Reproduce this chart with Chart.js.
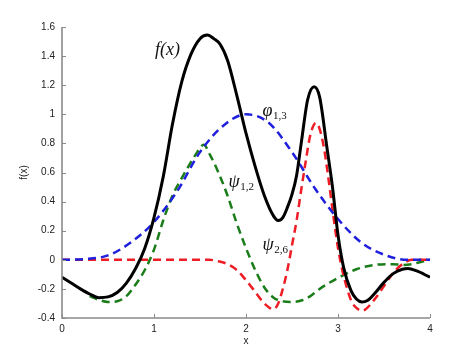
<!DOCTYPE html>
<html>
<head>
<meta charset="utf-8">
<script src="https://cdn.jsdelivr.net/npm/chart.js@4/dist/chart.umd.min.js"></script>
<style>
html,body{margin:0;padding:0;background:#fff;}
#wrap{width:474px;height:356px;position:relative;}
</style>
</head>
<body>
<div id="wrap"><canvas id="c" width="474" height="356"></canvas></div>
<script>
// ---- data ----
const fX = [0,0.1,0.2,0.3,0.4,0.5,0.6,0.7,0.8,0.9,1.0,1.1,1.2,1.3,1.4,1.5,1.58,1.65,1.72,1.8,1.9,2.0,2.1,2.2,2.3,2.35,2.4,2.45,2.5,2.55,2.6,2.67,2.74,2.8,2.88,2.94,3.0,3.06,3.14,3.2,3.26,3.32,3.4,3.5,3.6,3.7,3.76,3.85,4.0];
const fY = [-0.12,-0.16,-0.2,-0.235,-0.26,-0.255,-0.225,-0.16,-0.06,0.08,0.29,0.57,0.93,1.22,1.41,1.52,1.545,1.52,1.48,1.37,1.13,0.87,0.64,0.44,0.3,0.27,0.29,0.36,0.45,0.58,0.8,1.1,1.19,1.12,0.77,0.5,0.17,-0.05,-0.21,-0.27,-0.29,-0.28,-0.23,-0.155,-0.095,-0.065,-0.06,-0.075,-0.12];

const phiX = [0,0.25,0.5,0.75,1.0,1.25,1.5,1.75,2.0,2.25,2.5,2.75,3.0,3.25,3.5,3.75,4.0];
const phiY = [0,0.005,0.03,0.12,0.26,0.47,0.74,0.92,1.0,0.94,0.74,0.49,0.28,0.12,0.035,0.0,0];

const psi12X = [0.3,0.4,0.5,0.6,0.7,0.8,0.9,1.0,1.1,1.2,1.3,1.4,1.45,1.54,1.61,1.7,1.8,1.9,2.0,2.1,2.2,2.3,2.4,2.5,2.6,2.7,2.8,2.9,3.0,3.2,3.4,3.6,3.7,3.8,3.9,4.0];
const psi12Y = [-0.25,-0.275,-0.29,-0.285,-0.25,-0.17,-0.07,0.07,0.27,0.44,0.56,0.67,0.72,0.79,0.72,0.6,0.44,0.25,0.08,-0.07,-0.19,-0.26,-0.285,-0.29,-0.28,-0.25,-0.2,-0.16,-0.125,-0.065,-0.035,-0.03,-0.035,-0.03,-0.015,0];

const psi26X = [0,1.6,1.7,1.8,1.9,2.0,2.1,2.2,2.3,2.35,2.4,2.45,2.5,2.55,2.6,2.65,2.7,2.76,2.8,2.85,2.9,2.95,3.0,3.05,3.1,3.15,3.2,3.26,3.3,3.4,3.5,3.6,3.7,3.8,4.0];
const psi26Y = [0,0,-0.01,-0.03,-0.07,-0.14,-0.22,-0.3,-0.34,-0.3,-0.2,-0.07,0.1,0.27,0.48,0.68,0.86,0.94,0.9,0.76,0.54,0.3,0.08,-0.08,-0.2,-0.29,-0.33,-0.35,-0.34,-0.27,-0.18,-0.09,-0.03,0,0];

const yTicks = [-0.4,-0.2,0,0.2,0.4,0.6,0.8,1,1.2,1.4,1.6];
const xTicks = [0,1,2,3,4];

// labels: [main, subscript, x, y(baseline)]
const curveLabels = [
  ['f(x)', '', 1.01, 1.41],
  ['\u03C6', '1,3', 2.18, 0.99],
  ['\u03C8', '1,2', 1.81, 0.50],
  ['\u03C8', '2,6', 2.18, 0.065]
];

const pts = (xs, ys) => xs.map((x, i) => ({x: x, y: ys[i]}));

const AXIS_COLOR = '#8a8a8a';

const axisPlugin = {
  id: 'axisPlugin',
  afterDraw(chart) {
    const ctx = chart.ctx;
    const xs = chart.scales.x, ys = chart.scales.y;
    const left = xs.left, right = xs.right, top = ys.top, bottom = ys.bottom;
    ctx.save();
    ctx.strokeStyle = AXIS_COLOR;
    ctx.lineWidth = 1.6;
    ctx.beginPath();
    ctx.moveTo(left, top); ctx.lineTo(left, bottom); ctx.lineTo(right, bottom);
    ctx.stroke();
    ctx.lineWidth = 1;
    ctx.beginPath();
    yTicks.forEach(v => { const p = Math.round(ys.getPixelForValue(v)) + 0.5; ctx.moveTo(left, p); ctx.lineTo(left + 4, p); });
    xTicks.forEach(v => { const p = Math.round(xs.getPixelForValue(v)) + 0.5; ctx.moveTo(p, bottom); ctx.lineTo(p, bottom - 4); });
    ctx.stroke();
    // curve labels
    ctx.fillStyle = '#111';
    ctx.textBaseline = 'alphabetic';
    ctx.textAlign = 'left';
    curveLabels.forEach(l => {
      const px = xs.getPixelForValue(l[2]);
      const py = ys.getPixelForValue(l[3]);
      ctx.font = 'italic 18px "Liberation Serif", "DejaVu Serif", serif';
      ctx.fillText(l[0], px, py);
      const w = ctx.measureText(l[0]).width;
      if (l[1]) {
        ctx.font = '11px "Liberation Serif", "DejaVu Serif", serif';
        ctx.fillText(l[1], px + w + 0.5, py + 3);
      }
    });
    ctx.restore();
  }
};

const common = { fill: false, pointRadius: 0, cubicInterpolationMode: 'monotone' };

new Chart(document.getElementById('c'), {
  type: 'line',
  data: {
    datasets: [
      Object.assign({ label: 'f(x)', data: pts(fX, fY), borderColor: '#000', borderWidth: 3 }, common),
      Object.assign({ label: 'phi13', data: pts(phiX, phiY), borderColor: '#1f1fdc', borderWidth: 2.5, borderDash: [8, 5] }, common),
      Object.assign({ label: 'psi26', data: pts(psi26X, psi26Y), borderColor: '#ee1c24', borderWidth: 2.5, borderDash: [8, 5] }, common),
      Object.assign({ label: 'psi12', data: pts(psi12X, psi12Y), borderColor: '#1a7d1a', borderWidth: 2.5, borderDash: [8, 5] }, common)
    ]
  },
  options: {
    responsive: false,
    animation: false,
    layout: { padding: { left: 0, right: 44, top: 27, bottom: 0 } },
    plugins: { legend: { display: false }, tooltip: { enabled: false } },
    scales: {
      x: {
        type: 'linear', min: 0, max: 4,
        grid: { display: false, drawTicks: false },
        border: { display: false },
        afterBuildTicks: s => { s.ticks = xTicks.map(v => ({value: v})); },
        afterFit: s => { s.height = 38; },
        ticks: { color: '#222', font: { family: '"Liberation Sans", Arial, sans-serif', size: 10 }, padding: 5, maxRotation: 0,
                 callback: v => String(v) },
        title: { display: true, text: 'x', color: '#222', font: { family: '"Liberation Sans", Arial, sans-serif', size: 10 }, padding: { top: 0, bottom: 9 } }
      },
      y: {
        type: 'linear', min: -0.4, max: 1.6,
        grid: { display: false, drawTicks: false },
        border: { display: false },
        afterBuildTicks: s => { s.ticks = yTicks.map(v => ({value: v})); },
        afterFit: s => { s.width = 62; },
        ticks: { color: '#222', font: { family: '"Liberation Sans", Arial, sans-serif', size: 10 }, padding: 7,
                 callback: v => String(Math.round(v * 10) / 10) },
        title: { display: true, text: 'f(x)', color: '#222', font: { family: '"Liberation Sans", Arial, sans-serif', size: 10 }, padding: { top: 18, bottom: 4 } }
      }
    }
  },
  plugins: [axisPlugin]
});
</script>
</body>
</html>
